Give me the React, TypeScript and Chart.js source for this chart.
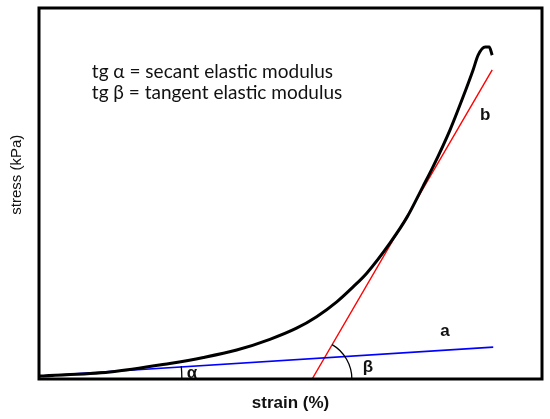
import React, { useEffect, useRef } from "react";
import { Chart, registerables } from "chart.js";

Chart.register(...registerables);

// Stress–strain curve (relative units, 0–100)
const curveStrain = [0, 14.1, 26.0, 32.7, 39.3, 45.9, 51.2, 55.2, 59.2, 62.5, 65.2, 69.8, 73.2, 76.3, 78.3, 81.7, 84.3, 86.3, 87.3, 88.7, 89.5, 90.1];
const curveStress = [0.8, 1.9, 4.2, 5.8, 7.8, 10.7, 13.7, 16.8, 20.8, 24.9, 28.6, 36.7, 43.7, 51.8, 57.1, 67.1, 76.0, 83.3, 87.3, 89.5, 89.5, 87.3];

// Secant line (a) and tangent line (b)
const secantStrain = [0, 90.3];
const secantStress = [0.8, 8.6];
const tangentStrain = [54.3, 90.1];
const tangentStress = [0, 83.3];

// Annotation labels
const labelTexts = ["α", "β", "a", "b"];
const labelStrain = [30.4, 65.4, 80.7, 88.7];
const labelStress = [1.6, 3.2, 12.9, 71.2];

const noteLines = ["tg α = secant elastic modulus", "tg β = tangent elastic modulus"];
const noteStrain = 10.5;
const noteStress = [82.7, 77.0];

const toPoints = (xs: number[], ys: number[]) => xs.map((x, i) => ({ x, y: ys[i] }));

const decorPlugin = {
  id: "decor",
  afterDatasetsDraw(chart: any) {
    const { ctx, chartArea, scales } = chart;
    const xs = scales.x;
    const ys = scales.y;
    ctx.save();
    ctx.strokeStyle = "#000";
    ctx.lineWidth = 1.3;
    // alpha arc centred at origin, up to secant line
    const ox = xs.getPixelForValue(0);
    const oy = ys.getPixelForValue(0);
    const sx = xs.getPixelForValue(secantStrain[1]);
    const sy = ys.getPixelForValue(secantStress[1]);
    const aAng = Math.atan2(oy - sy, sx - ox) + 0.02;
    const rA = xs.getPixelForValue(28.4) - ox;
    ctx.beginPath();
    ctx.arc(ox, oy, rA, -aAng, 0);
    ctx.stroke();
    // beta arc at tangent foot
    const tx0 = xs.getPixelForValue(tangentStrain[0]);
    const ty0 = ys.getPixelForValue(tangentStress[0]);
    const tx1 = xs.getPixelForValue(tangentStrain[1]);
    const ty1 = ys.getPixelForValue(tangentStress[1]);
    const bAng = Math.atan2(ty0 - ty1, tx1 - tx0);
    const rB = xs.getPixelForValue(62.2) - tx0;
    ctx.beginPath();
    ctx.arc(tx0, ty0, rB, -bAng, 0);
    ctx.stroke();

    // labels
    ctx.fillStyle = "#111";
    ctx.font = "bold 17px 'Liberation Sans', Arial, sans-serif";
    ctx.textAlign = "center";
    ctx.textBaseline = "middle";
    labelTexts.forEach((t, i) => {
      ctx.fillText(t, xs.getPixelForValue(labelStrain[i]), ys.getPixelForValue(labelStress[i]));
    });

    // note text
    ctx.font = "19px Lato, 'Open Sans', sans-serif";
    ctx.textAlign = "left";
    noteLines.forEach((t, i) => {
      ctx.fillText(t, xs.getPixelForValue(noteStrain), ys.getPixelForValue(noteStress[i]));
    });

    // frame
    ctx.lineWidth = 3;
    ctx.strokeStyle = "#000";
    ctx.strokeRect(chartArea.left, chartArea.top, chartArea.right - chartArea.left, chartArea.bottom - chartArea.top);
    ctx.restore();
  },
};

export default function App() {
  const ref = useRef<HTMLCanvasElement | null>(null);
  useEffect(() => {
    if (!ref.current) return;
    const chart = new Chart(ref.current, {
      type: "line",
      data: {
        datasets: [
          {
            label: "stress–strain",
            data: toPoints(curveStrain, curveStress),
            borderColor: "#000",
            borderWidth: 3,
            pointRadius: 0,
            cubicInterpolationMode: "monotone",
            fill: false,
          },
          {
            label: "a",
            data: toPoints(secantStrain, secantStress),
            borderColor: "#0000ff",
            borderWidth: 1.6,
            pointRadius: 0,
            fill: false,
          },
          {
            label: "b",
            data: toPoints(tangentStrain, tangentStress),
            borderColor: "#ff0000",
            borderWidth: 1.4,
            pointRadius: 0,
            fill: false,
          },
        ],
      },
      options: {
        animation: false,
        responsive: true,
        maintainAspectRatio: false,
        layout: { padding: { top: 8, right: 8, left: 0, bottom: 0 } },
        plugins: { legend: { display: false }, tooltip: { enabled: false } },
        scales: {
          x: {
            type: "linear",
            min: 0,
            max: 100,
            ticks: { display: false },
            grid: { display: false },
            border: { display: false },
            title: {
              display: true,
              text: "strain (%)",
              color: "#111",
              font: { family: "'Liberation Sans', Arial, sans-serif", size: 17, weight: "bold" },
              padding: { top: 6, bottom: 5 },
            },
            afterFit: (s: any) => {
              s.height = 40;
            },
          },
          y: {
            type: "linear",
            min: 0,
            max: 100,
            ticks: { display: false },
            grid: { display: false },
            border: { display: false },
            title: {
              display: true,
              text: "\u00a0\u00a0\u00a0\u00a0\u00a0\u00a0\u00a0\u00a0\u00a0stress (kPa)",
              color: "#111",
              font: { family: "'Liberation Sans', Arial, sans-serif", size: 15, weight: "normal" },
              padding: { top: 8, bottom: 4 },
            },
            afterFit: (s: any) => {
              s.width = 39;
            },
          },
        },
      },
      plugins: [decorPlugin],
    });
    return () => chart.destroy();
  }, []);
  return (
    <div style={{ position: "fixed", left: 0, top: 0, width: 550, height: 419, background: "#fff" }}>
      <canvas ref={ref} />
    </div>
  );
}
